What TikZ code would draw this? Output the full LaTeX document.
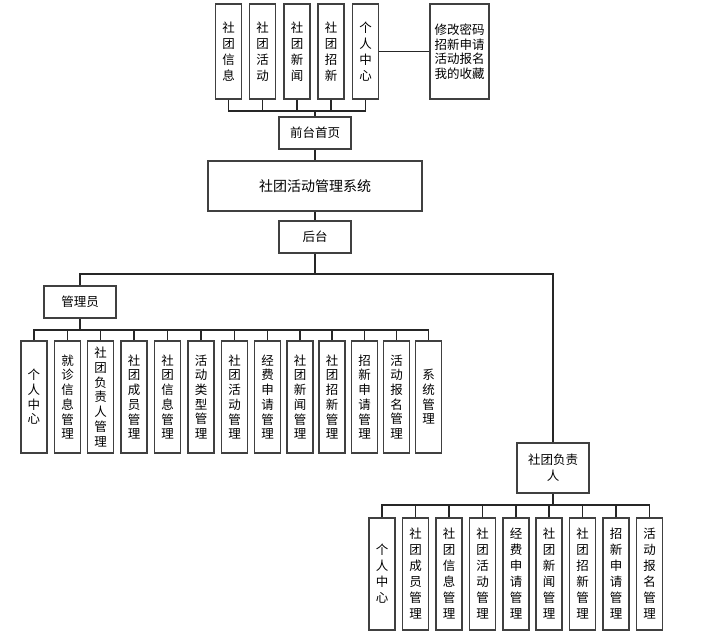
\documentclass[tikz,border=0pt]{standalone}
\usepackage{fontspec}
\newfontfamily\cjk{Noto Sans CJK SC}
\tikzset{
  box/.style={draw=black!75, line width=1.2pt, fill=white, inner sep=0pt, align=center,
    font=\cjk\fontsize{12.5}{16}\selectfont},
  vbox/.style={box, minimum width=26pt, minimum height=112pt, text width=14pt},
  abox/.style={vbox, font=\cjk\fontsize{12.5}{14.7}\selectfont},
  tbox/.style={box, minimum width=26pt, minimum height=95pt, text width=14pt},
  hbox/.style={box, minimum width=72pt, minimum height=32pt},
  conn/.style={draw=black!85, line width=1.1pt}
}
\begin{document}
\begin{tikzpicture}[x=1pt,y=-1pt]
\useasboundingbox (0,0) rectangle (705,637);
% top row
\node[tbox] (t1) at (228.5,51.5) {社\\团\\信\\息};
\node[tbox] (t2) at (262.5,51.5) {社\\团\\活\\动};
\node[tbox] (t3) at (297,51.5) {社\\团\\新\\闻};
\node[tbox] (t4) at (331,51.5) {社\\团\\招\\新};
\node[tbox] (t5) at (365.5,51.5) {个\\人\\中\\心};
\node[box, minimum width=59pt, minimum height=95pt, font=\cjk\fontsize{12.5}{14.5}\selectfont] (info) at (459.5,51.5) {修改密码\\招新申请\\活动报名\\我的收藏};
\node[hbox] (front) at (315,133) {前台首页};
\node[box, minimum width=214pt, minimum height=50pt, font=\cjk\fontsize{14}{16}\selectfont] (sys) at (315,186) {社团活动管理系统};
\node[hbox] (back) at (315,237) {后台};
\node[hbox] (admin) at (80,302) {管理员};
\node[box, minimum width=72pt, minimum height=50pt] (leader) at (553,468) {社团负责\\人};
% admin children
\node[abox] (a1) at (34,397) {个\\人\\中\\心};
\node[abox] (a2) at (67.5,397) {就\\诊\\信\\息\\管\\理};
\node[abox] (a3) at (100.5,397) {社\\团\\负\\责\\人\\管\\理};
\node[abox] (a4) at (134,397) {社\\团\\成\\员\\管\\理};
\node[abox] (a5) at (167.5,397) {社\\团\\信\\息\\管\\理};
\node[abox] (a6) at (201,397) {活\\动\\类\\型\\管\\理};
\node[abox] (a7) at (234.5,397) {社\\团\\活\\动\\管\\理};
\node[abox] (a8) at (267.5,397) {经\\费\\申\\请\\管\\理};
\node[abox] (a9) at (300,397) {社\\团\\新\\闻\\管\\理};
\node[abox] (a10) at (332,397) {社\\团\\招\\新\\管\\理};
\node[abox] (a11) at (364.5,397) {招\\新\\申\\请\\管\\理};
\node[abox] (a12) at (396.5,397) {活\\动\\报\\名\\管\\理};
\node[abox] (a13) at (428.5,397) {系\\统\\管\\理};
% leader children
\node[vbox] (l1) at (382,574) {个\\人\\中\\心};
\node[vbox] (l2) at (415.5,574) {社\\团\\成\\员\\管\\理};
\node[vbox] (l3) at (449,574) {社\\团\\信\\息\\管\\理};
\node[vbox] (l4) at (482.5,574) {社\\团\\活\\动\\管\\理};
\node[vbox] (l5) at (516,574) {经\\费\\申\\请\\管\\理};
\node[vbox] (l6) at (549,574) {社\\团\\新\\闻\\管\\理};
\node[vbox] (l7) at (582.5,574) {社\\团\\招\\新\\管\\理};
\node[vbox] (l8) at (616,574) {招\\新\\申\\请\\管\\理};
\node[vbox] (l9) at (649.5,574) {活\\动\\报\\名\\管\\理};
% connectors
\coordinate (tb) at (315,111);
\foreach \i in {1,...,5} { \draw[conn] (t\i.south) |- (tb); }
\draw[conn] (tb) -- (front.north);
\draw[conn] (t5) -- (info);
\draw[conn] (front) -- (sys);
\draw[conn] (sys) -- (back);
\coordinate (bb) at (315,274);
\draw[conn] (back.south) -- (bb);
\draw[conn] (admin.north) |- (bb) -| (leader.north);
\coordinate (ab) at (80,330);
\draw[conn] (admin.south) -- (ab);
\foreach \i in {1,...,13} { \draw[conn] (a\i.north) |- (ab); }
\coordinate (lb) at (553,505);
\draw[conn] (leader.south) -- (lb);
\foreach \i in {1,...,9} { \draw[conn] (l\i.north) |- (lb); }
\end{tikzpicture}
\end{document}
